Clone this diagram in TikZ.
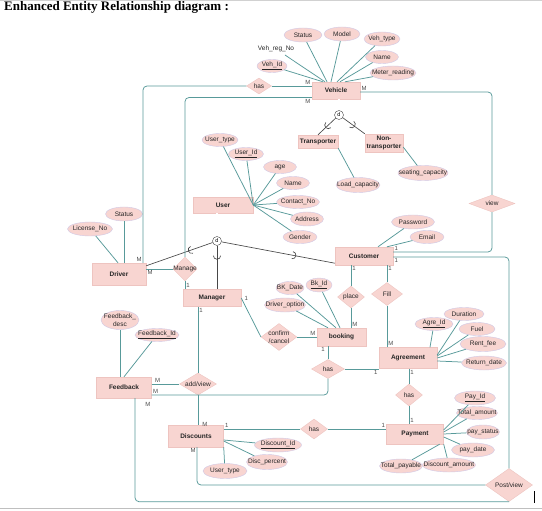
\documentclass[tikz,border=0pt]{standalone}
\usepackage{fontspec}
\setmainfont{Liberation Sans}
\newfontfamily\titlefont{Liberation Serif}
\usetikzlibrary{shapes.geometric,decorations.markings}

\definecolor{erfill}{RGB}{248,213,209}
\definecolor{erbord}{RGB}{238,196,192}
\definecolor{atbord}{RGB}{208,200,230}
\definecolor{linkc}{RGB}{88,154,154}
\definecolor{txtc}{RGB}{38,38,38}

\tikzset{
  ent/.style={draw=erbord, fill=erfill, text=txtc, inner sep=0pt, align=center, font=\fontsize{6.5}{7.5}\selectfont\bfseries},
  att/.style={ellipse, draw=atbord, fill=erfill, text=txtc, inner xsep=-8pt, inner ysep=-1pt, align=center, font=\fontsize{6.5}{7.5}\selectfont},
  rel/.style={diamond, aspect=1.5, draw=erbord, fill=erfill, text=txtc, inner sep=0pt, align=center, font=\fontsize{6.5}{7.5}\selectfont},
  lnk/.style={draw=linkc, line width=0.75pt, rounded corners=4pt},
  isa/.style={draw=black!72, line width=0.65pt},
  dsj/.style={circle, draw=black!72, fill=white, inner sep=0pt, minimum size=9pt, font=\fontsize{5.5}{6}\selectfont},
  card/.style={text=black!70, inner sep=1pt, font=\fontsize{6}{6}\selectfont},
  sub/.style={postaction={decorate}, decoration={markings, mark=at position #1 with {\draw[isa] (0,-3.6pt) arc[start angle=-90, end angle=90, radius=3.6pt];}}}
}

\begin{document}
\begin{tikzpicture}[x=1pt,y=-1pt]
\useasboundingbox (0,0) rectangle (542,511);
\fill[white] (0,0) rectangle (542,511);
\draw[black!18, line width=1pt] (0,0.5) -- (542,0.5);
\draw[black!25, line width=1pt] (0,508.5) -- (542,508.5);
\node[anchor=base west, inner sep=0pt, font=\titlefont\bfseries\fontsize{13}{15}\selectfont] (title) at (4,11) {Enhanced Entity Relationship diagram :};

\node[ent, minimum width=48pt, minimum height=17pt] (veh) at (336,90.5) {Vehicle};
\node[ent, minimum width=40pt, minimum height=13pt] (tr) at (318,141.5) {Transporter};
\node[ent, minimum width=38pt, minimum height=18pt] (nt) at (384,143) {Non-\\transporter};
\node[ent, minimum width=60pt, minimum height=16pt] (usr) at (223,205) {User};
\node[ent, minimum width=54pt, minimum height=22pt] (drv) at (119,274) {Driver};
\node[ent, minimum width=58pt, minimum height=17pt] (mgr) at (212,298) {Manager};
\node[ent, minimum width=58pt, minimum height=18pt] (cust) at (364,256) {Customer};
\node[ent, minimum width=49pt, minimum height=18pt] (bk) at (341.5,337) {booking};
\node[ent, minimum width=58pt, minimum height=21pt] (agr) at (408,358) {Agreement};
\node[ent, minimum width=55pt, minimum height=21pt] (fb) at (124,387.5) {Feedback};
\node[ent, minimum width=55pt, minimum height=22pt] (disc) at (196,436) {Discounts};
\node[ent, minimum width=57pt, minimum height=20pt] (pay) at (415,434) {Payment};

\node[rel, minimum width=25pt, minimum height=16pt] (hasv) at (259,86) {has};
\node[rel, minimum width=24pt, minimum height=24pt, inner xsep=-6pt] (mng) at (185,269) {Manage};
\node[rel, minimum width=46pt, minimum height=17pt] (view) at (492,203.5) {view};
\node[rel, minimum width=27pt, minimum height=22pt] (plc) at (351,297) {place};
\node[rel, minimum width=31pt, minimum height=23pt] (fil) at (387,294) {Fill};
\node[rel, minimum width=35pt, minimum height=27pt, inner xsep=-2pt] (conf) at (279,337) {confirm\\/cancel};
\node[rel, minimum width=33pt, minimum height=19pt] (hasb) at (328,369) {has};
\node[rel, minimum width=27pt, minimum height=22pt] (hasp) at (409,395) {has};
\node[rel, minimum width=27pt, minimum height=20pt] (hasd) at (314,429) {has};
\node[rel, minimum width=37pt, minimum height=22pt] (addv) at (198,384) {add/view};
\node[rel, minimum width=47pt, minimum height=33pt] (post) at (509,485) {Post/view};

\node[dsj] (dv) at (339,115) {d};
\node[dsj] (du) at (217,241) {d};

\node[att, minimum width=38pt, minimum height=14pt] (vst) at (303,35) {Status};
\node[att, minimum width=36pt, minimum height=14pt] (vmo) at (342,34) {Model};
\node[att, minimum width=36pt, minimum height=14pt] (vty) at (382,39) {Veh\_type};
\node[att, minimum width=33pt, minimum height=13pt] (vna) at (382,57) {Name};
\node[att, minimum width=46pt, minimum height=14pt] (vme) at (393,73) {Meter\_reading};
\node[att, draw=none, fill=none, minimum width=40pt, minimum height=13pt] (vrg) at (276,49) {Veh\_reg\_No};
\node[att, minimum width=30pt, minimum height=13pt] (vid) at (272,66) {\underline{Veh\_Id}};
\node[att, minimum width=44pt, minimum height=15pt] (ld) at (358,185) {Load\_capacity};
\node[att, minimum width=50pt, minimum height=15pt] (sc) at (423,173) {seating\_capacity};

\node[att, minimum width=36pt, minimum height=13pt] (uty) at (220,140) {User\_type};
\node[att, minimum width=35pt, minimum height=13pt] (uid) at (246,154) {\underline{User\_Id}};
\node[att, minimum width=33pt, minimum height=13pt] (uag) at (280,167) {age};
\node[att, minimum width=33pt, minimum height=13pt] (una) at (293,183) {Name};
\node[att, minimum width=43pt, minimum height=13pt] (uco) at (298,202) {Contact\_No};
\node[att, minimum width=33pt, minimum height=14pt] (uad) at (307,219) {Address};
\node[att, minimum width=34pt, minimum height=13pt] (uge) at (300,237) {Gender};

\node[att, minimum width=37pt, minimum height=14pt] (dst) at (124,214) {Status};
\node[att, minimum width=45pt, minimum height=14pt] (dli) at (90,229) {License\_No};
\node[att, minimum width=43pt, minimum height=14pt] (cpw) at (413,222) {Password};
\node[att, minimum width=34pt, minimum height=13pt] (cem) at (427,237) {Email};

\node[att, minimum width=28pt, minimum height=13pt] (bkd) at (290,288) {BK\_Date};
\node[att, minimum width=26pt, minimum height=14pt] (bid) at (319,285) {\underline{Bk\_Id}};
\node[att, minimum width=41pt, minimum height=14pt] (bdo) at (285,305) {Driver\_option};

\node[att, minimum width=38pt, minimum height=13pt] (aid) at (434,324) {\underline{Agre\_Id}};
\node[att, minimum width=40pt, minimum height=13pt] (adu) at (464,314) {Duration};
\node[att, minimum width=36pt, minimum height=13pt] (afu) at (477,329) {Fuel};
\node[att, minimum width=46pt, minimum height=15pt] (arf) at (483,344) {Rent\_fee};
\node[att, minimum width=45pt, minimum height=14pt] (ard) at (484,363) {Return\_date};

\node[att, minimum width=41pt, minimum height=14pt] (ppi) at (475,398) {\underline{Pay\_Id}};
\node[att, minimum width=41pt, minimum height=13pt] (pta) at (477,413) {Total\_amount};
\node[att, minimum width=33pt, minimum height=14pt] (pst) at (483,432) {pay\_status};
\node[att, minimum width=43pt, minimum height=14pt] (pdt) at (473,450) {pay\_date};
\node[att, minimum width=53pt, minimum height=14pt] (pda) at (449,465) {Discount\_amount};
\node[att, minimum width=43pt, minimum height=14pt] (ptp) at (401,466) {Total\_payable};

\node[att, minimum width=47pt, minimum height=14pt] (did) at (278,445) {\underline{Discount\_Id}};
\node[att, minimum width=41pt, minimum height=15pt] (dpc) at (267,462) {Disc\_percent};
\node[att, minimum width=44pt, minimum height=15pt] (dut) at (225,471) {User\_type};

\node[att, minimum width=38pt, minimum height=19pt] (fbd) at (120,320) {Feedback\_\\desc};
\node[att, minimum width=44pt, minimum height=13pt] (fid) at (157,335) {\underline{Feedback\_Id}};

\draw[lnk] (vid) -- (veh.north -| 323,0);
\draw[lnk] (vrg) -- (veh.north -| 325,0);
\draw[lnk] (vst) -- (veh.north -| 327,0);
\draw[lnk] (vmo) -- (veh.north -| 331,0);
\draw[lnk] (vty) -- (veh.north -| 337,0);
\draw[lnk] (vna) -- (veh.north -| 340,0);
\draw[lnk] (vme) -- (veh.north -| 345,0);
\draw[lnk] (tr.south east) -- (ld);
\draw[lnk] (nt.east |- 0,147) -- (sc);
\draw[lnk] (uty) -- (usr.east);
\draw[lnk] (uid) -- (usr.east);
\draw[lnk] (uag) -- (usr.east);
\draw[lnk] (una) -- (usr.east);
\draw[lnk] (uco) -- (usr.east);
\draw[lnk] (uad) -- (usr.east);
\draw[lnk] (uge) -- (usr.east);
\draw[lnk] (dst) -- (drv.north -| dst);
\draw[lnk] (dli) -- (drv.north -| 118,0);
\draw[lnk] (cpw) -- (cust.north -| 378,0);
\draw[lnk] (cem) -- (cust.north -| 387,0);
\draw[lnk] (bdo) -- (bk.north -| 328,0);
\draw[lnk] (bkd) -- (bk.north -| 336,0);
\draw[lnk] (bid) -- (bk.north -| 340,0);
\draw[lnk] (aid) -- (agr.north -| 430,0);
\draw[lnk] (adu) -- (agr.east |- 0,355);
\draw[lnk] (afu) -- (agr.east |- 0,356);
\draw[lnk] (arf) -- (agr.east |- 0,358);
\draw[lnk] (ard) -- (agr.east |- 0,361);
\draw[lnk] (ppi) -- (pay.east |- 0,430);
\draw[lnk] (pta) -- (pay.east |- 0,432);
\draw[lnk] (pst) -- (pay.east |- 0,434);
\draw[lnk] (pdt) -- (pay.east |- 0,437);
\draw[lnk] (pda) -- (pay.south east);
\draw[lnk] (ptp) -- ([xshift=-4pt]pay.south east);
\draw[lnk] (did) -- (disc.east |- 0,440);
\draw[lnk] (dpc) -- (disc.east |- 0,441);
\draw[lnk] (dut) -- (disc.south east);
\draw[lnk] (fbd) -- (fb.north -| fbd);
\draw[lnk] (fid) -- (fb.north -| 124,0);

\draw[isa, double, double distance=1.2pt] (veh.south -| dv) -- (dv.north);
\draw[isa, sub=10pt] (dv) -- (tr.north);
\draw[isa, sub=11pt] (dv) -- (nt.north west);
\draw[isa, double, double distance=1.2pt] (usr.south -| du) -- (du.north);
\draw[isa, sub=22pt] (du) -- ([yshift=-3pt]drv.north east);
\draw[isa, sub=10pt] (du) -- (mgr.north -| du);
\draw[isa, sub=72pt] (du) -- ([yshift=2pt]cust.south west);

\draw[lnk] (hasv.west) -| (drv.north -| 143,0) node[card, pos=1, anchor=south east] (c1) {M};
\draw[lnk] (hasv.east) -- (veh.west |- hasv) node[card, anchor=south east] (c2) {M};
\draw[lnk] (veh.west |- 0,97.5) -| (mng.north) node[card, pos=0, anchor=north east] (c3) {M};
\draw[lnk] (drv.east |- mng) -- (mng.west) node[card, pos=0, anchor=north west] (c4) {M};
\draw[lnk] (mng.south) -- (mgr.north -| mng) node[card, anchor=south west] (c5) {1};
\draw[lnk] (view.north) |- (veh.east |- 0,92) node[card, pos=1, anchor=south west] (c6) {M};
\draw[lnk] (cust.east |- 0,252) -| (view.south) node[card, pos=0, anchor=south west] (c7) {1};
\draw[lnk] (cust.east |- 0,257) -| (post.north) node[card, pos=0, anchor=north west] (c8) {1};
\draw[lnk] (post.west) -| (disc.south -| 197,0) node[card, pos=1, anchor=north east] (c9) {M};
\draw[lnk] (post.south) -| (fb.south -| 135,0) node[card, pos=1, anchor=north west, xshift=9pt, yshift=-3pt] (c10) {M};
\draw[lnk] (mgr.east) -- (conf.west) node[card, pos=0, anchor=west, xshift=2pt] (c11) {1};
\draw[lnk] (conf.east) -- (bk.west) node[card, anchor=south east] (c12) {M};
\draw[lnk] (cust.south -| plc) -- (plc.north) node[card, pos=0, anchor=north west] (c13) {1};
\draw[lnk] (plc.south) -- (bk.north -| plc) node[card, anchor=south west] (c14) {M};
\draw[lnk] (cust.south -| fil) -- (fil.north) node[card, pos=0, anchor=north west] (c15) {1};
\draw[lnk] (fil.south) -- (agr.north -| fil) node[card, anchor=south west] (c16) {M};
\draw[lnk] (bk.south -| hasb) -- (hasb.north) node[card, pos=0, anchor=north east, xshift=-2pt] (c17) {1};
\draw[lnk] (hasb.east) -- (hasb -| agr.west) node[card, anchor=north east] (c18) {1};
\draw[lnk] (agr.south -| hasp) -- (hasp.north) node[card, pos=0, anchor=north west] (c19) {1};
\draw[lnk] (hasp.south) -- (pay.north -| hasp) node[card, anchor=south west] (c20) {1};
\draw[lnk] (fb.east |- addv) -- (addv.west) node[card, pos=0, anchor=south west, xshift=2pt] (c21) {M};
\draw[lnk] (fb.east |- 0,395) -| (hasb.south) node[card, pos=0, anchor=south west] (c22) {M};
\draw[lnk] (mgr.south -| addv) -- (addv.north) node[card, pos=0, anchor=north west] (c23) {1};
\draw[lnk] (addv.south) -- (disc.north -| addv) node[card, anchor=south west, xshift=3pt, yshift=-3pt] (c24) {M};
\draw[lnk] (disc.east |- hasd) -- (hasd.west) node[card, pos=0, anchor=south west] (c25) {1};
\draw[lnk] (hasd.east) -- (pay.west |- hasd) node[card, anchor=south east] (c26) {1};

\draw[black, line width=0.9pt] (534,491) -- (534,503);
\end{tikzpicture}
\end{document}
